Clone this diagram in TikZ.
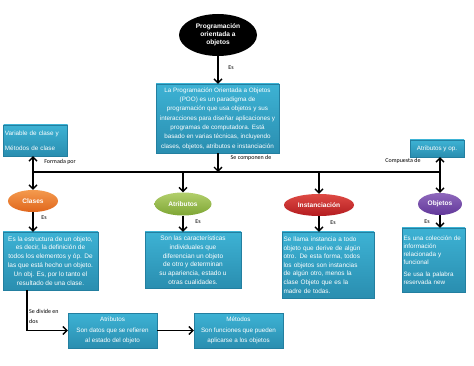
\documentclass[tikz,border=0pt]{standalone}
\usepackage{fontspec}
\setmainfont{Liberation Sans}
\newfontfamily\lblfont{Carlito}
\usetikzlibrary{arrows.meta,shapes.geometric}
\definecolor{boxtop}{HTML}{3DB2D4}
\definecolor{boxbot}{HTML}{2A8EB0}
\definecolor{boxline}{HTML}{237FA0}
\definecolor{orgtop}{HTML}{F49A4E}
\definecolor{orgbot}{HTML}{E0661C}
\definecolor{grntop}{HTML}{B2CF6C}
\definecolor{grnbot}{HTML}{7EA634}
\definecolor{redtop}{HTML}{DE4A44}
\definecolor{redbot}{HTML}{B41C20}
\definecolor{purtop}{HTML}{8E68BC}
\definecolor{purbot}{HTML}{62389A}
\tikzset{
  tbox/.style={rectangle, draw=boxline, line width=0.4pt, top color=boxtop, bottom color=boxbot,
    text=white, font=\fontsize{6.3}{9}\selectfont, inner sep=1pt, align=center},
  oval/.style={ellipse, inner sep=0pt, text=white, font=\bfseries\fontsize{6.6}{8.2}\selectfont, align=center},
  arr/.style={line width=1.6pt, -{Straight Barb[length=4pt,width=8pt,line width=1.4pt]}},
  dbl/.style={line width=1.6pt, {Straight Barb[length=4pt,width=8pt,line width=1.4pt]}-{Straight Barb[length=4pt,width=8pt,line width=1.4pt]}},
  bus/.style={line width=1.6pt},
  lbl/.style={font=\lblfont\fontsize{6}{7}\selectfont, text=black, inner sep=0pt}
}
\begin{document}
\begin{tikzpicture}[x=1pt,y=-1pt]
\useasboundingbox (0,0) rectangle (474,366);
\fill[white] (0,0) rectangle (474,366);

% top ellipse
\node[oval, fill=black, minimum width=78pt, minimum height=42pt] (top) at (218,35)
  {Programación\\orientada a\\objetos};

% main box
\node[tbox, minimum width=123pt, minimum height=69pt, font=\fontsize{6.3}{9.3}\selectfont] (main) at (217.5,118.5)
  {La Programación Orientada a Objetos\\(POO) es un paradigma de\\programación que usa objetos y sus\\interacciones para diseñar aplicaciones y\\programas de computadora. Está\\basado en varias técnicas, incluyendo\\clases, objetos, atributos e instanciación};

% bus coordinates
\coordinate (hub) at (218,172);
\coordinate (c1) at (33,172);
\coordinate (c2) at (183,172);
\coordinate (c3) at (319,172);
\coordinate (c4) at (440,172);

% side boxes
\node[tbox, minimum width=64pt, minimum height=31pt, align=left, text width=61pt, font=\fontsize{6.3}{15}\selectfont] (varbox) at (35.5,140.5)
  {Variable de clase y\\Métodos de clase};
\node[tbox, minimum width=54pt, minimum height=17pt] (attop) at (437,148.5) {Atributos y op.};

% ellipses
\node[oval, top color=orgtop, bottom color=orgbot, minimum width=50pt, minimum height=22pt] (clases) at (33,201) {Clases};
\node[oval, top color=grntop, bottom color=grnbot, minimum width=57pt, minimum height=23pt] (atrib) at (183,204) {Atributos};
\node[oval, top color=redtop, bottom color=redbot, minimum width=70pt, minimum height=22pt] (inst) at (319,205) {Instanciación};
\node[oval, top color=purtop, bottom color=purbot, minimum width=44pt, minimum height=22pt] (obj) at (440,204) {Objetos};

% description boxes
\node[tbox, minimum width=95pt, minimum height=58pt, font=\fontsize{6.5}{8.9}\selectfont] (cdesc) at (50.5,261)
  {Es la estructura de un objeto,\\es decir, la definición de\\todos los elementos y óp. De\\las que está hecho un objeto.\\Un obj. Es, por lo tanto el\\resultado de una clase.};
\node[tbox, minimum width=96pt, minimum height=56pt, font=\fontsize{6.5}{8.7}\selectfont] (adesc) at (193,260)
  {Son las características\\individuales que\\diferencian un objeto\\de otro y determinan\\su apariencia, estado u\\otras cualidades.};
\node[tbox, minimum width=92pt, minimum height=66pt, align=left, text width=89pt, font=\fontsize{6.4}{8.6}\selectfont] (idesc) at (328,265)
  {Se llama instancia a todo\\objeto que derive de algún\\otro. De esta forma, todos\\los objetos son instancias\\de algún otro, menos la\\clase Objeto que es la\\madre de todas.};
\node[tbox, minimum width=63pt, minimum height=64pt, align=left, text width=60pt, font=\fontsize{6.3}{8}\selectfont] (odesc) at (433.5,260)
  {Es una colección de\\información\\relacionada y\\funcional\\[4pt]Se usa la palabra\\reservada new};

% bottom boxes
\node[tbox, minimum width=89pt, minimum height=35pt, font=\fontsize{6.3}{10.5}\selectfont] (battr) at (112.5,330.5)
  {Atributos\\Son datos que se refieren\\al estado del objeto};
\node[tbox, minimum width=89pt, minimum height=35pt, font=\fontsize{6.3}{10.5}\selectfont] (bmet) at (238.5,330.5)
  {Métodos\\Son funciones que pueden\\aplicarse a los objetos};

% connectors
\draw[arr] (top.south) -- (top.south |- main.north);
\draw[arr] (top.south |- main.south) -- (hub);
\draw[bus] (c1) -- (c4);
\draw[arr] (c2) -- (atrib.north);
\draw[arr] (c3) -- (inst.north);
\draw[dbl] (varbox.south -| c1) -- (clases.north);
\draw[dbl] (attop.south -| c4) -- (obj.north);
\draw[arr] (clases.south) -- (clases.south |- cdesc.north);
\draw[arr] (atrib.south) -- (atrib.south |- adesc.north);
\draw[arr] (inst.south) -- (inst.south |- idesc.north);
\draw[arr] (obj.south) -- (obj.south |- odesc.north);
\draw[arr] ([xshift=-23.5pt]cdesc.south) |- (battr.west);
\draw[arr] (battr.east) -- (bmet.west);

% labels
\node[lbl] (l1) at (231,68) {Es};
\node[lbl] (l2) at (251,158) {Se componen de};
\node[lbl] (l3) at (60,162) {Formada por};
\node[lbl] (l4) at (403,161) {Compuesta de};
\node[lbl] (l5) at (44,218) {Es};
\node[lbl] (l6) at (198,222) {Es};
\node[lbl] (l7) at (333,223) {Es};
\node[lbl] (l8) at (427,222) {Es};
\node[lbl, anchor=north west, align=left, font=\lblfont\fontsize{6}{10}\selectfont] (l9) at (29,309) {Se divide en\\dos};
\end{tikzpicture}
\end{document}
